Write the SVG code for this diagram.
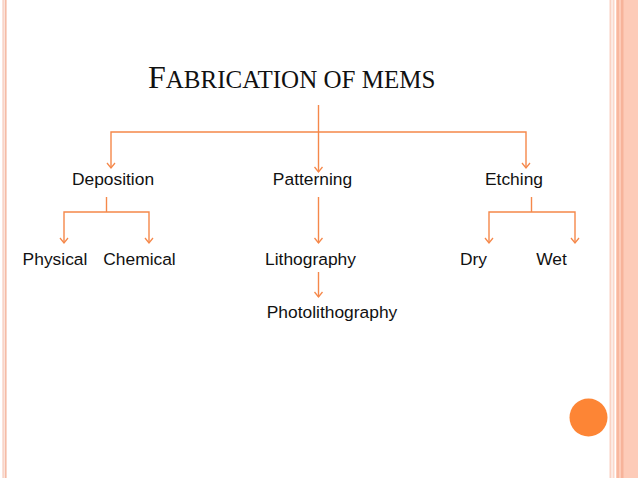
<svg xmlns="http://www.w3.org/2000/svg" width="638" height="478" viewBox="0 0 638 478">
<style>
.lbl{font-family:"Liberation Sans",Arial,sans-serif;font-size:17.4px;fill:#111;text-anchor:middle}
.ttl{font-family:"Liberation Serif","Times New Roman",serif;fill:#111}
.ln{fill:none;stroke:#F5884A;stroke-width:1.4}
.ar{fill:none;stroke:#F5884A;stroke-width:1.3}
</style>
<defs>
<marker id="ah" markerWidth="8" markerHeight="10" refX="6" refY="5" orient="auto-start-reverse" markerUnits="userSpaceOnUse" viewBox="0 0 8 10">
<path d="M1,1 L6,5 L1,9" class="ar"/>
</marker>
</defs>
<rect width="638" height="478" fill="#fff"/>
<g id="border">
<rect x="2.5" y="0" width="1.2" height="478" fill="#F6C3B3"/>
<rect x="4.6" y="0" width="2" height="478" fill="#F5BBA6"/>
<rect x="609.5" y="0" width="2" height="478" fill="#FAD2C4"/>
<rect x="612.5" y="0" width="2" height="478" fill="#FBD8CC"/>
<rect x="616" y="0" width="22" height="478" fill="#FDCBB8"/>
<rect x="617" y="0" width="2" height="478" fill="#F8B8A0"/>
<rect x="621" y="0" width="2.5" height="478" fill="#F7B39A"/>
</g>
<g id="title">
<text class="ttl" x="148" y="88"><tspan font-size="32">F</tspan><tspan font-size="25">ABRICATION OF MEMS</tspan></text>
</g>
<g id="connectors">
<path class="ln" d="M318.5,105 V172" marker-end="url(#ah)"/>
<path class="ln" d="M111,168 V132 H526 V168" marker-start="url(#ah)" marker-end="url(#ah)"/>
<path class="ln" d="M106.5,197 V212"/>
<path class="ln" d="M64,243 V212 H149 V243" marker-start="url(#ah)" marker-end="url(#ah)"/>
<path class="ln" d="M318.5,197 V243" marker-end="url(#ah)"/>
<path class="ln" d="M318.5,272 V297" marker-end="url(#ah)"/>
<path class="ln" d="M531.5,197 V212"/>
<path class="ln" d="M489,243 V212 H575 V243" marker-start="url(#ah)" marker-end="url(#ah)"/>
</g>
<g id="deposition"><text class="lbl" x="113" y="185">Deposition</text></g>
<g id="patterning"><text class="lbl" x="312.5" y="185">Patterning</text></g>
<g id="etching"><text class="lbl" x="514" y="185">Etching</text></g>
<g id="physical"><text class="lbl" x="55" y="265">Physical</text></g>
<g id="chemical"><text class="lbl" x="139.5" y="265">Chemical</text></g>
<g id="lithography"><text class="lbl" x="310.5" y="265">Lithography</text></g>
<g id="photolithography"><text class="lbl" x="332" y="318">Photolithography</text></g>
<g id="dry"><text class="lbl" x="473.5" y="265">Dry</text></g>
<g id="wet"><text class="lbl" x="551.5" y="265">Wet</text></g>
<circle cx="588.5" cy="417.5" r="19" fill="#FD8535"/>
</svg>
